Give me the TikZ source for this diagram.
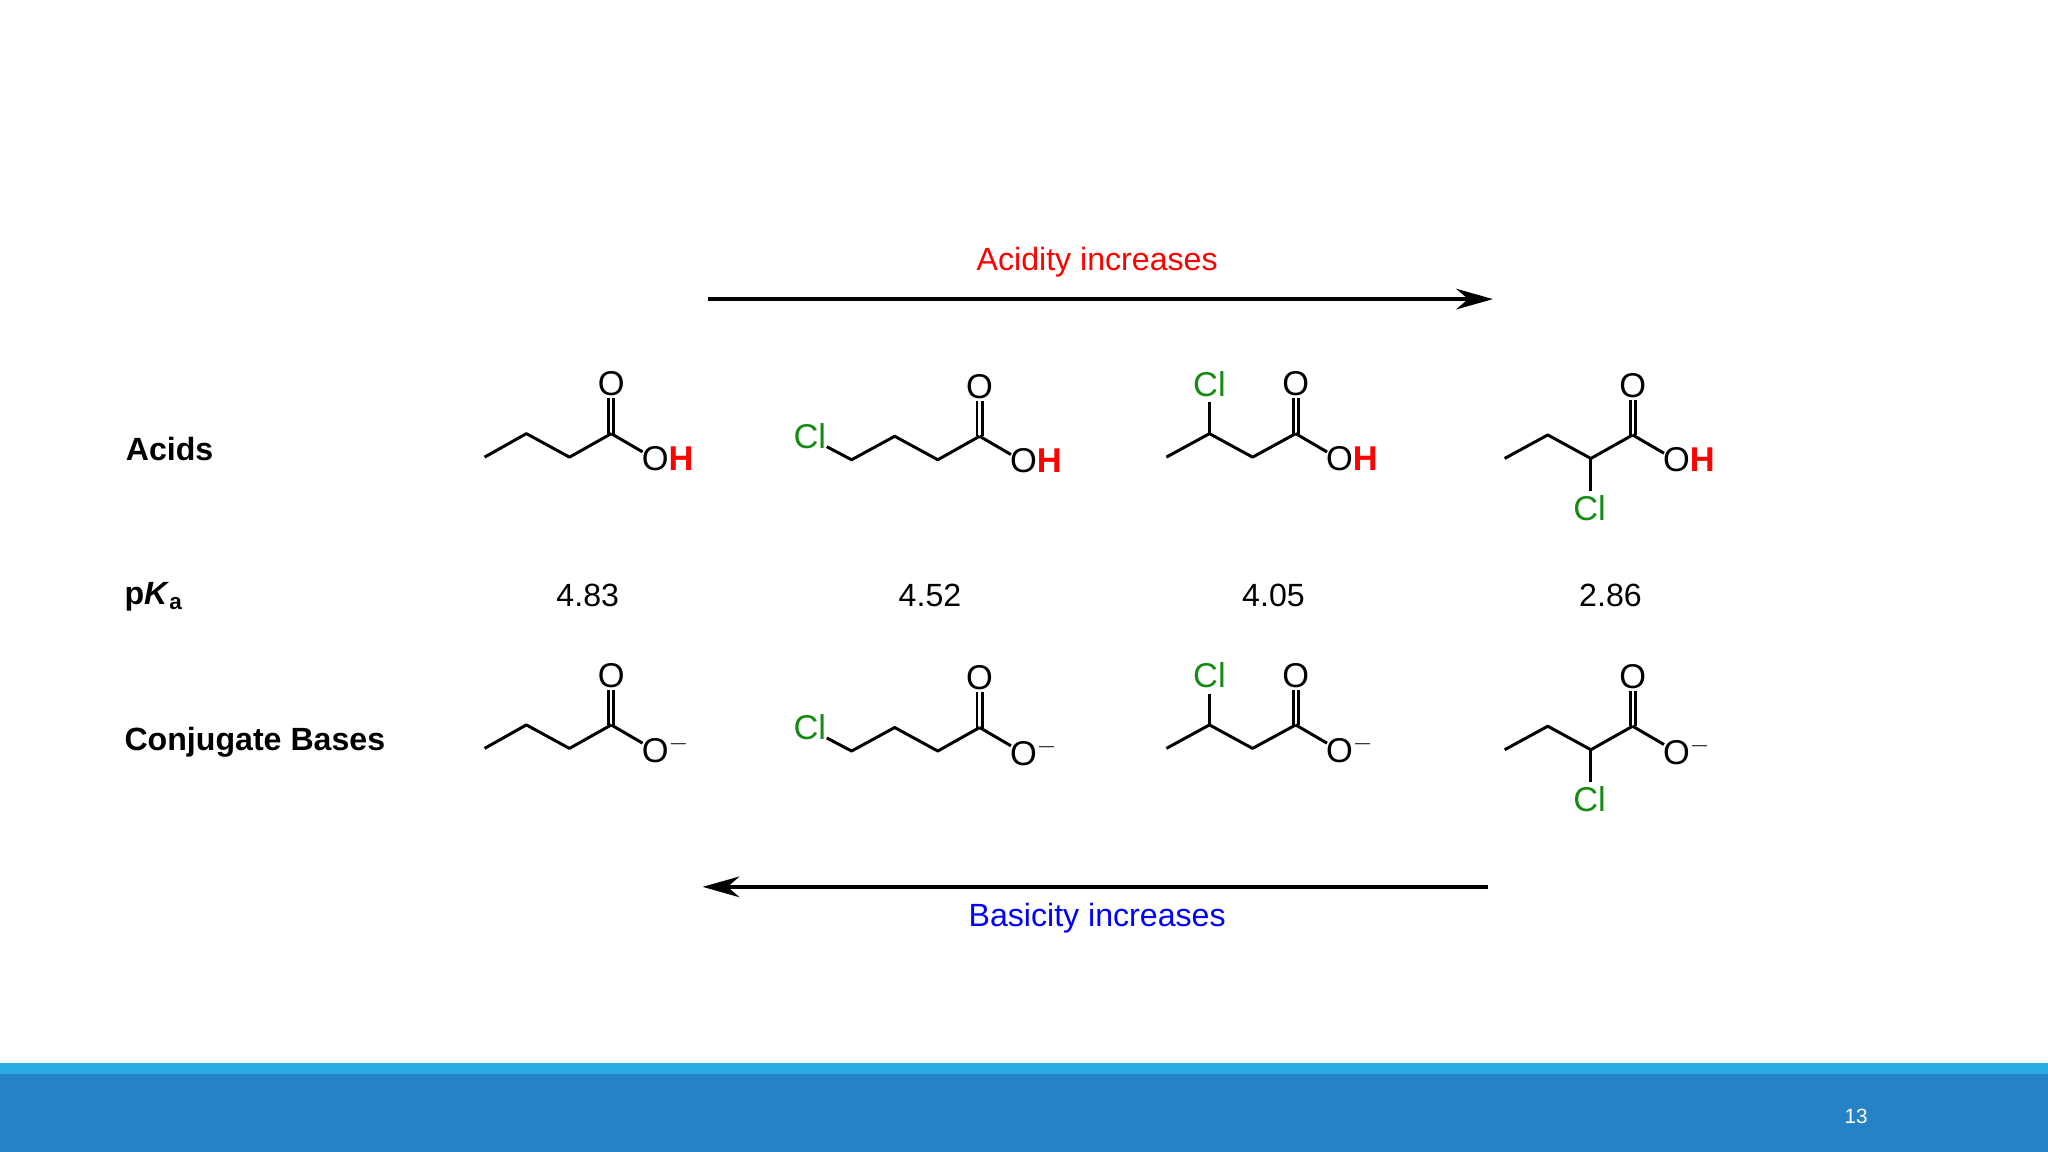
\documentclass[tikz,border=0pt]{standalone}
\usepackage{fontspec}
\setmainfont{Liberation Sans}
\usetikzlibrary{arrows.meta}
\definecolor{clg}{RGB}{20,140,20}
\definecolor{barl}{RGB}{41,171,226}
\definecolor{bard}{RGB}{39,129,197}
\tikzset{bond/.style={line width=1.3pt,line join=round},
 atom/.style={inner sep=0pt,font=\fontsize{15}{15}\selectfont},
 lbl/.style={inner sep=0pt,anchor=west,font=\fontsize{14}{14}\selectfont\bfseries},
 num/.style={inner sep=0pt,font=\fontsize{14}{14}\selectfont}}
\newcommand\mytail[1]{\ifnum#1=1 \textcolor{black}{O}\textcolor{red}{\bfseries H}\else O$^{-}$\fi}
\newcommand\carb[3]{%
 \draw[bond] (#1-2,#2) -- (#1-2,#2-27) (#1+2,#2) -- (#1+2,#2-27);
 \node[atom] at (#1,#2-38) {O};
 \draw[bond] (#1,#2) -- (#1+24,#2+14);
 \node[atom,anchor=west] at (#1+23,#2+19) {\mytail{#3}};}
\newcommand\allmol[1]{%
 \draw[bond] (371,350) -- (403,332) -- (436,350) -- (468,332);
 \carb{468}{332}{#1}
 \node[atom,text=clg] at (620,334) {Cl};
 \draw[bond] (633,342) -- (652,352) -- (685,334) -- (718,352) -- (750,334);
 \carb{750}{334}{#1}
 \draw[bond] (893,350) -- (926,332) -- (959,350) -- (992,332);
 \draw[bond] (926,332) -- (926,308);
 \node[atom,text=clg] at (926,294) {Cl};
 \carb{992}{332}{#1}
 \draw[bond] (1152,351) -- (1185,333) -- (1218,351) -- (1250,333);
 \draw[bond] (1218,351) -- (1218,376);
 \node[atom,text=clg] at (1217,389) {Cl};
 \carb{1250}{333}{#1}}
\begin{document}
\begin{tikzpicture}[x=0.02cm,y=-0.02cm]
\useasboundingbox (0,0) rectangle (1568,882);
\fill[white] (0,0) rectangle (1568,882);
\fill[barl] (0,814) rectangle (1568,822);
\fill[bard] (0,822) rectangle (1568,882);
\node[text=white,font=\fontsize{9}{9}\selectfont] (pg) at (1421,855) {13};
\node[num,text=red] (ta) at (840,201) {Acidity increases};
\coordinate (a1) at (542,229); \coordinate (a2) at (1143,229);
\draw[line width=1.6pt,-{Stealth[length=16pt,width=9pt]}] (a1) -- (a2);
\coordinate (b1) at (1139,679); \coordinate (b2) at (538,679);
\draw[line width=1.6pt,-{Stealth[length=16pt,width=9pt]}] (b1) -- (b2);
\node[num,text=blue] (tb) at (840,703) {Basicity increases};
\node[lbl] (l1) at (96,344) {Acids};
\node[lbl] (l2) at (95,457) {p\textit{K}\textsubscript{a}};
\node[lbl] (l3) at (95,568) {Conjugate Bases};
\node[num] at (450,456) {4.83};
\node[num] at (712,456) {4.52};
\node[num] at (975,456) {4.05};
\node[num] at (1233,456) {2.86};
\allmol{1}
\begin{scope}[yshift=-223*0.02cm]
\allmol{0}
\end{scope}
\end{tikzpicture}
\end{document}
